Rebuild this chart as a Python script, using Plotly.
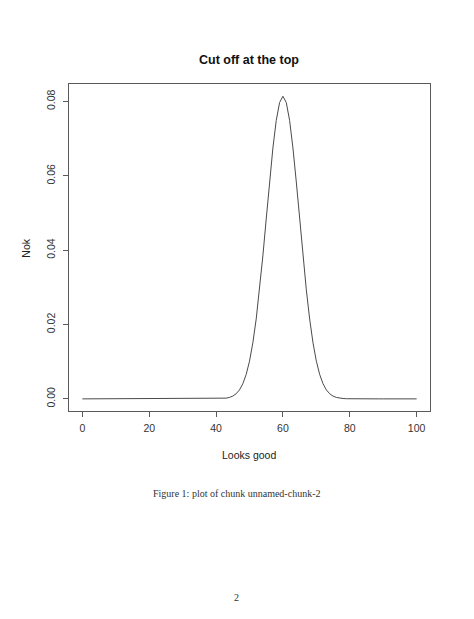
import plotly.graph_objects as go

# curve values, x = 0..100 step 1
x_vals = list(range(0, 101))
left_tail = [0.0] * 40  # x = 0..39
bump = [0.00002, 0.000044, 0.000095, 0.0002, 0.00039, 0.00075, 0.00137, 0.00241,
        0.00406, 0.00655, 0.01014, 0.01507, 0.02147, 0.02934, 0.03846, 0.04836,
        0.05833, 0.06749, 0.07489, 0.07972, 0.0814, 0.07972, 0.07489, 0.06749,
        0.05833, 0.04836, 0.03846, 0.02934, 0.02147, 0.01507, 0.01014, 0.00655,
        0.00406, 0.00241, 0.00137, 0.00075, 0.00039, 0.0002, 0.000095, 0.000044,
        0.00002]  # x = 40..80
right_tail = [0.0] * 20  # x = 81..100
y_vals = left_tail + bump + right_tail

x_ticks = [0, 20, 40, 60, 80, 100]
y_ticks = [0.00, 0.02, 0.04, 0.06, 0.08]

W, H = 474, 619
axis_col = '#5a5a5a'
text_col = '#222222'
font = 'Liberation Sans, Arial, sans-serif'
serif = 'Liberation Serif, Times New Roman, serif'

# plot box in page pixels
bx0, bx1, by0, by1 = 69.3, 430.0, 84.3, 410.7


def px_x(p):
    return (p - bx0) / (bx1 - bx0)


def px_y(p):
    return (by1 - p) / (by1 - by0)


fig = go.Figure()
fig.add_trace(go.Scatter(x=x_vals, y=y_vals, mode='lines',
                         line=dict(color='#4a4a4a', width=1)))

fig.update_layout(
    width=W, height=H,
    margin=dict(l=69, r=44, t=84, b=208),
    paper_bgcolor='white', plot_bgcolor='white',
    showlegend=False,
    font=dict(family=font, color=text_col, size=10.5),
    title=dict(text='<b>Cut off at the top</b>', x=249 / W, xanchor='center',
               y=1 - 60 / H, yanchor='middle', yref='container',
               font=dict(size=12.5, family=font, color='#111111')),
)

fig.update_xaxes(range=[-4, 104], tickvals=x_ticks, ticks='outside', ticklen=5,
                 tickcolor=axis_col, tickwidth=1, showline=True, linecolor=axis_col,
                 linewidth=1.3, mirror=True, showgrid=False, zeroline=False,
                 ticklabelstandoff=2, tickfont=dict(size=10.5, color='#333333'))
fig.update_yaxes(range=[-0.00326, 0.0847], tickvals=y_ticks, tickformat='.2f',
                 tickangle=-90, ticks='outside', ticklen=5, tickcolor=axis_col,
                 tickwidth=1, showline=True, linecolor=axis_col, linewidth=1.3,
                 mirror=True, showgrid=False, zeroline=False,
                 ticklabelstandoff=4, tickfont=dict(size=10.5, color='#333333'))

# axis titles, caption and page number
fig.add_annotation(text='Looks good', xref='paper', yref='paper', x=px_x(249), y=px_y(455),
                   showarrow=False, xanchor='center', yanchor='middle',
                   font=dict(size=10.5, color=text_col))
fig.add_annotation(text='Nok', xref='paper', yref='paper', x=px_x(26), y=px_y(248),
                   showarrow=False, textangle=-90, xanchor='center', yanchor='middle',
                   font=dict(size=10.5, color=text_col))
fig.add_annotation(text='Figure 1: plot of chunk unnamed-chunk-2', xref='paper', yref='paper',
                   x=px_x(237), y=px_y(493), showarrow=False, xanchor='center',
                   yanchor='middle', font=dict(size=10, family=serif, color='#333333'))
fig.add_annotation(text='2', xref='paper', yref='paper', x=px_x(237), y=px_y(597),
                   showarrow=False, xanchor='center', yanchor='middle',
                   font=dict(size=10, family=serif, color='#333333'))

fig.write_html('out.html', config={'displayModeBar': False},
               post_script="document.body.style.margin='0';")
